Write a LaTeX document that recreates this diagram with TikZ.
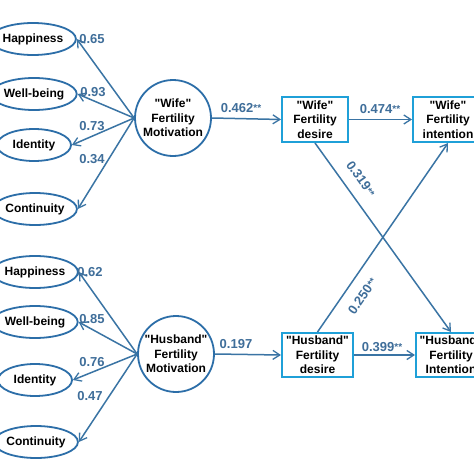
\documentclass[tikz,border=0pt]{standalone}
\usepackage{fontspec}
\newfontfamily\lsans{Liberation Sans}
\usetikzlibrary{shapes.geometric,arrows.meta}
\definecolor{ringblue}{HTML}{2C6EA8}
\definecolor{boxblue}{HTML}{1FA0D8}
\definecolor{arrowblue}{HTML}{3A74A4}
\definecolor{labelblue}{HTML}{3F6E9A}
\tikzset{
  indic/.style={ellipse,draw=ringblue,line width=1.8pt,minimum width=74pt,minimum height=32pt,inner sep=0pt,font=\lsans\fontsize{12}{13}\selectfont\bfseries},
  latent/.style={circle,draw=ringblue,line width=1.8pt,minimum size=76pt,inner sep=0pt,align=center,font=\lsans\fontsize{12}{14.5}\selectfont\bfseries},
  obsbox/.style={rectangle,draw=boxblue,line width=2pt,minimum width=68pt,minimum height=45pt,inner sep=1pt,align=center,font=\lsans\fontsize{12}{14.5}\selectfont\bfseries},
  conn/.style={draw=arrowblue,line width=1.5pt,-{Straight Barb[length=7pt,width=9pt,line width=1.3pt]}},
  coef/.style={text=labelblue,font=\lsans\fontsize{13}{14}\selectfont\bfseries,inner sep=1pt},
}
\newcommand{\sig}{\raisebox{0.1ex}{\fontsize{10}{10}\selectfont **}}
\begin{document}
\begin{tikzpicture}[x=1pt,y=-1pt]
\useasboundingbox (0,0) rectangle (474,474);
\clip (0,0) rectangle (474,474);
\fill[white] (0,0) rectangle (474,474);
% wife indicators
\node[indic] (h1) at (33,39) {Happiness};
\node[indic] (w1) at (34,94) {Well-being};
\node[indic] (i1) at (34,145) {Identity};
\node[indic] (c1) at (35,209) {Continuity};
\node[latent] (m1) at (173,118) {"Wife"\\Fertility\\Motivation};
% husband indicators
\node[indic] (h2) at (35,272) {Happiness};
\node[indic] (w2) at (35,322) {Well-being};
\node[indic] (i2) at (35,380) {Identity};
\node[indic] (c2) at (36,442) {Continuity};
\node[latent] (m2) at (176,354) {"Husband"\\Fertility\\Motivation};
% boxes
\node[obsbox,minimum width=66pt] (d1) at (315,119.5) {"Wife"\\Fertility\\desire};
\node[obsbox,minimum width=70pt] (t1) at (448,119.5) {"Wife"\\Fertility\\intention};
\node[obsbox,minimum width=71pt,minimum height=44pt] (d2) at (317.5,355) {"Husband"\\Fertility\\desire};
\node[obsbox,minimum width=70pt,minimum height=44pt] (t2) at (451,355) {"Husband"\\Fertility\\Intention};
% loadings wife
\draw[conn] (m1.west) -- (h1.east);
\draw[conn] (m1.west) -- (w1.east);
\draw[conn] (m1.west) -- (i1.east);
\draw[conn] (m1.west) -- (c1.east);
\node[coef] (l1) at (92,39) {0.65};
\node[coef] (l2) at (93,92) {0.93};
\node[coef] (l3) at (92,126) {0.73};
\node[coef] (l4) at (92,159) {0.34};
% loadings husband
\draw[conn] (m2.west) -- (h2.east);
\draw[conn] (m2.west) -- (w2.east);
\draw[conn] (m2.west) -- (i2.east);
\draw[conn] (m2.west) -- (c2.east);
\node[coef] (l5) at (90,272) {0.62};
\node[coef] (l6) at (92,319) {0.85};
\node[coef] (l7) at (92,362) {0.76};
\node[coef] (l8) at (90,396) {0.47};
% paths
\draw[conn] (m1.east) -- (d1.west);
\node[coef] (p1) at (241,108) {0.462\sig};
\draw[conn] (d1.east) -- (t1.west);
\node[coef] (p2) at (380,109) {0.474\sig};
\draw[conn] (m2.east) -- (d2.west);
\node[coef] (p3) at (236,344) {0.197};
\draw[conn] (d2.east) -- (t2.west);
\node[coef] (p4) at (382,347) {0.399\sig};
\draw[conn] (d1.south) -- node[coef,pos=0.24,sloped,above=10pt] (p5) {0.319\sig} (t2.north);
\draw[conn] (d2.north) -- node[coef,pos=0.24,sloped,below=10pt] (p6) {0.250\sig} (t1.south);
\end{tikzpicture}
\end{document}
